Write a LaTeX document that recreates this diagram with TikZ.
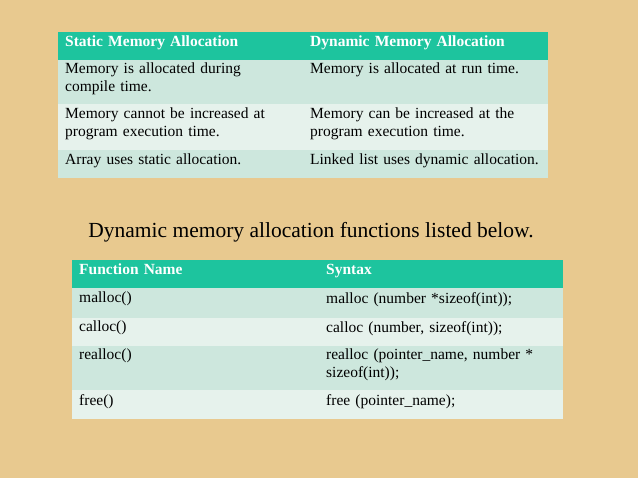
\documentclass[tikz,border=0pt]{standalone}
\usepackage{fontspec}
\setmainfont{Liberation Serif}
\definecolor{bgc}{HTML}{E8C98F}
\definecolor{hdr}{HTML}{1DC49E}
\definecolor{rowa}{HTML}{CDE7DD}
\definecolor{rowb}{HTML}{E6F2EC}
\begin{document}
\begin{tikzpicture}[x=1pt,y=-1pt,
  cell/.style={anchor=north west,inner sep=0pt,align=left,font=\fontsize{15.5}{18}\selectfont,text width=300pt},
  hcell/.style={cell,text=white,font=\bfseries\fontsize{15.5}{18}\selectfont}]
\useasboundingbox (0,0) rectangle (638,478);
\fill[bgc] (0,0) rectangle (638,478);
% table 1
\fill[hdr] (58,32) rectangle (548,60);
\fill[rowa] (58,60) rectangle (548,104);
\fill[rowb] (58,104) rectangle (548,150);
\fill[rowa] (58,150) rectangle (548,178);
\node[hcell] (t1h1) at (65,36) {Static Memory Allocation};
\node[hcell] (t1h2) at (310,36) {Dynamic Memory Allocation};
\node[cell] (t1a1) at (65,63) {Memory is allocated during\\compile time.};
\node[cell] (t1a2) at (310,63) {Memory is allocated at run time.};
\node[cell] (t1b1) at (65,108) {Memory cannot be increased at\\program execution time.};
\node[cell] (t1b2) at (310,108) {Memory can be increased at the\\program execution time.};
\node[cell] (t1c1) at (65,154) {Array uses static allocation.};
\node[cell] (t1c2) at (310,154) {Linked list uses dynamic allocation.};
% heading
\node[font=\fontsize{21.5}{25}\selectfont,inner sep=0pt] (head) at (311,232) {Dynamic memory allocation functions listed below.};
% table 2
\fill[hdr] (72,260) rectangle (563,288);
\fill[rowa] (72,288) rectangle (563,318);
\fill[rowb] (72,318) rectangle (563,346);
\fill[rowa] (72,346) rectangle (563,390);
\fill[rowb] (72,390) rectangle (563,419);
\node[hcell] (t2h1) at (79,264) {Function Name};
\node[hcell] (t2h2) at (326,264) {Syntax};
\node[cell] (t2a1) at (79,292) {malloc()};
\node[cell] (t2a2) at (326,292) {malloc (number *sizeof(int));};
\node[cell] (t2b1) at (79,321) {calloc()};
\node[cell] (t2b2) at (326,321) {calloc (number, sizeof(int));};
\node[cell] (t2c1) at (79,349) {realloc()};
\node[cell] (t2c2) at (326,349) {realloc (pointer\_name, number *\\sizeof(int));};
\node[cell] (t2d1) at (79,394) {free()};
\node[cell] (t2d2) at (326,394) {free (pointer\_name);};
\end{tikzpicture}
\end{document}
